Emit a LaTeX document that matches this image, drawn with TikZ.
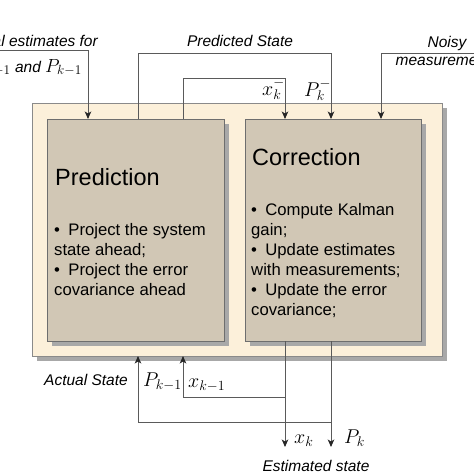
\RequirePackage{fix-cm}
\documentclass[tikz,border=0pt]{standalone}
\usepackage{fontspec}
\setmainfont{Liberation Sans}
\usetikzlibrary{arrows.meta,shadows}
\definecolor{framefill}{HTML}{FCF0DA}
\definecolor{frameline}{HTML}{8A8A8A}
\definecolor{boxfill}{HTML}{D1C7B5}
\definecolor{boxline}{HTML}{6E6E6E}
\definecolor{shadowgray}{HTML}{A8A8A8}
\definecolor{flowline}{HTML}{5A5A5A}
\def\bul{\textbullet\enspace}
\begin{document}
\begin{tikzpicture}[x=1pt,y=-1pt,
  panel/.style={draw=boxline,fill=boxfill,line width=0.9pt,inner sep=0pt,outer sep=0pt,
    drop shadow={shadow xshift=5pt,shadow yshift=-5pt,fill=shadowgray,opacity=1}},
  flow/.style={draw=flowline,line width=0.9pt,
    -{Stealth[length=7.5pt,width=6.5pt,inset=2pt,color=black!85]}},
  lab/.style={font=\fontsize{15.5}{18}\selectfont\itshape,inner sep=0pt},
  sym/.style={font=\fontsize{20}{22}\selectfont,inner sep=0pt,anchor=base west},
  head/.style={font=\fontsize{23.5}{26}\selectfont,inner sep=0pt,anchor=base west},
  item/.style={font=\fontsize{16.7}{20}\selectfont,inner sep=0pt,anchor=base west}]
\useasboundingbox (0,0) rectangle (474,474);
\clip (0,0) rectangle (474,474);
\fill[white] (0,0) rectangle (474,474);
% frame and the two stages
\node[panel,draw=frameline,fill=framefill,minimum width=410pt,minimum height=253pt] (frame) at (237,229.5) {};
\node[panel,minimum width=177pt,minimum height=222pt] (pred) at (135.5,230) {};
\node[panel,minimum width=176pt,minimum height=222pt] (corr) at (333,230) {};
\node[head] (predT) at (55,185) {Prediction};
\node[head] (corrT) at (252,165) {Correction};
\foreach \i/\txt in {0/{\bul Project the system}, 1/{state ahead;},
  2/{\bul Project the error}, 3/{covariance ahead}}
  \node[item] (predL\i) at (54,{235+20*\i}) {\txt};
\foreach \i/\txt in {0/{\bul Compute Kalman}, 1/{gain;}, 2/{\bul Update estimates},
  3/{with measurements;}, 4/{\bul Update the error}, 5/{covariance;}}
  \node[item] (corrL\i) at (251,{215+20*\i}) {\txt};
% inputs
\coordinate (estIn) at (0,50);
\coordinate (noisyIn) at (474,53);
\draw[flow] (estIn) -| (pred.north -| 88,0);
\draw[flow] (noisyIn) -| (corr.north -| 381,0);
\foreach \xa/\ya/\xb in {138/53/331, 183/78/285}
  \draw[flow] (pred.north -| \xa,0) |- (\xb,\ya) -- (corr.north -| \xb,0);
% outputs and feedback
\foreach \xa/\xb/\yb in {285/183/397, 331/138/422} {
  \draw[flow] (corr.south -| \xa,0) -- (\xa,447);
  \draw[flow] (\xa,\yb) -| (frame.south -| \xb,0);}
% labels
\node[lab,anchor=base east] (initA) at (98,46) {Initial estimates for};
\node[lab,anchor=base east] (initB) at (82,72)
  {{\fontsize{19}{20}\selectfont$x_{k-1}$} and {\fontsize{19}{20}\selectfont$P_{k-1}$}};
\node[lab,anchor=base] (predS) at (240,46) {Predicted State};
\node[lab,anchor=base] (noisyA) at (447,47) {Noisy};
\node[lab,anchor=base] (noisyB) at (443,65) {measurement};
\node[lab,anchor=base west] (actS) at (44,385) {Actual State};
\node[lab,anchor=base] (estS) at (316,471) {Estimated state};
\node[sym] (xpri) at (262,95) {$x_k^-$};
\node[sym] (Ppri) at (304,96) {$P_k^-$};
\node[sym] (Pold) at (143,386) {$P_{k-1}$};
\node[sym] (xold) at (188,387) {$x_{k-1}$};
\node[sym] (xnew) at (294,443) {$x_k$};
\node[sym] (Pnew) at (344,443) {$P_k$};
\end{tikzpicture}
\end{document}
